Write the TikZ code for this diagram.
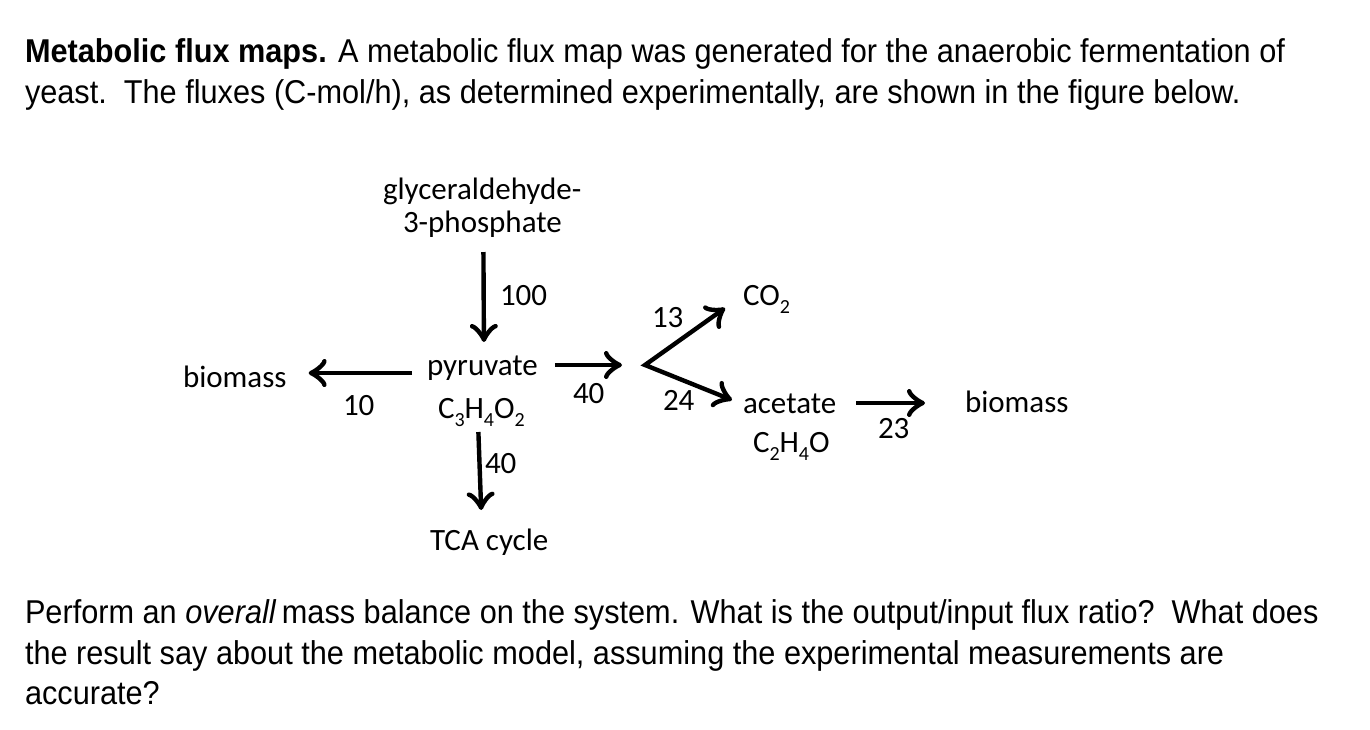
\documentclass[tikz,border=0pt]{standalone}
\usepackage{fontspec}
\usetikzlibrary{arrows.meta}
\newfontfamily\hvfont[FakeStretch=0.93]{Liberation Sans}
\newfontfamily\calfont{Carlito}
\newcommand\lsub[1]{\raisebox{-0.28em}{\fontsize{20}{20}\selectfont #1}}
\begin{document}
\begin{tikzpicture}[x=1pt,y=-1pt,
  txt/.style={inner sep=0pt,outer sep=0pt,font=\hvfont\fontsize{33}{39}\selectfont},
  lbl/.style={inner sep=0pt,outer sep=0pt,font=\calfont\fontsize{31}{37}\selectfont},
  arr/.style={line width=4.4pt,-{Classical TikZ Rightarrow[length=18pt,width=28pt,line width=4.4pt,round]}},
  arrb/.style={line width=4.4pt,{Classical TikZ Rightarrow[length=18pt,width=28pt,line width=4.4pt,round]}-{Classical TikZ Rightarrow[length=18pt,width=28pt,line width=4.4pt,round]}}]
\useasboundingbox[fill=white] (0,0) rectangle (1370,729);
% heading
\node[txt,anchor=base west] (h1) at (25,62) {{\bfseries Metabolic flux maps.} A metabolic flux map was generated for the anaerobic fermentation of};
\node[txt,anchor=base west] (h2) at (25,103) {yeast.\ \ The fluxes (C-mol/h), as determined experimentally, are shown in the figure below.};
% question
\node[txt,anchor=base west] (q1) at (25,623) {Perform an \textit{overall}\,mass balance on the system. What is the output/input flux ratio?\ \ What does};
\node[txt,anchor=base west] (q2) at (25,664) {the result say about the metabolic model, assuming the experimental measurements are};
\node[txt,anchor=base west] (q3) at (25,704) {accurate?};
% diagram labels
\node[lbl,anchor=base west] (g3p) at (383,199) {glyceraldehyde-};
\node[lbl,anchor=base west] (g3pb) at (403,232) {3-phosphate};
\node[lbl,anchor=base west] (f100) at (500,305) {100};
\node[lbl,anchor=base west] (pyr) at (427,375) {pyruvate};
\node[lbl,anchor=base west] (pyrf) at (438,418) {C\lsub{3}H\lsub{4}O\lsub{2}};
\node[lbl,anchor=base west] (bioL) at (183,387) {biomass};
\node[lbl,anchor=base west] (f10) at (343,415) {10};
\node[lbl,anchor=base west] (f40a) at (573,403) {40};
\node[lbl,anchor=base west] (f40b) at (485,473) {40};
\node[lbl,anchor=base west] (tca) at (430,550) {TCA cycle};
\node[lbl,anchor=base west] (f13) at (652,327) {13};
\node[lbl,anchor=base west] (co2) at (743,305) {CO\lsub{2}};
\node[lbl,anchor=base west] (f24) at (663,410) {24};
\node[lbl,anchor=base west] (ace) at (743,413) {acetate};
\node[lbl,anchor=base west] (acef) at (753,452) {C\lsub{2}H\lsub{4}O};
\node[lbl,anchor=base west] (f23) at (878,438) {23};
\node[lbl,anchor=base west] (bioR) at (965,412) {biomass};
\coordinate (jn) at (645,365);
% connectors
\draw[arr] ([shift={(1,20)}]g3pb.base) -- ([shift={(1.5,-33)}]pyr.base);
\draw[arr] ([shift={(-15,-2)}]pyr.base west) -- ([shift={(22,-14)}]bioL.base east);
\draw[arr] ([shift={(17,-10)}]pyr.base east) -- ([shift={(-23,0)}]jn);
\draw[arrb,line join=miter] ([shift={(-18,3)}]co2.base west) -- (jn) -- ([shift={(-11,-13)}]ace.base west);
\draw[arr] ([shift={(20,-10)}]ace.base east) -- ([shift={(-40,-9)}]bioR.base west);
\draw[arr] ([shift={(-3,14)}]pyrf.base) -- ([shift={(-8,-40)}]tca.base);
\end{tikzpicture}
\end{document}
